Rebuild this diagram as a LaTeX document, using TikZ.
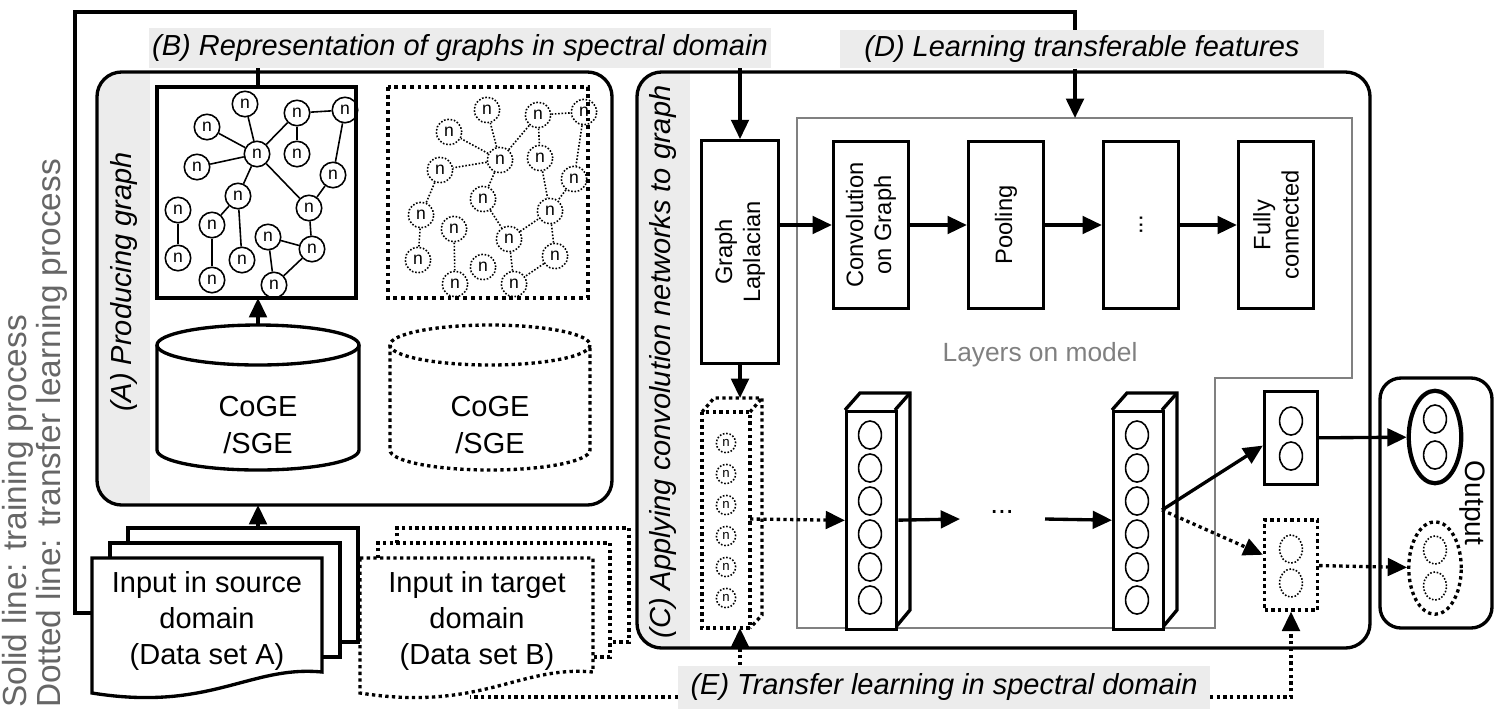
\documentclass[tikz,border=0pt]{standalone}
\usepackage{fontspec}
\setmainfont{Liberation Sans}
\usetikzlibrary{arrows.meta,positioning,shapes.geometric}

\tikzset{
  thk/.style={line width=1.9pt},
  dts/.style={line width=1.9pt, dash pattern=on 1.9pt off 1.9pt},
  arr/.style={thk, -{Triangle[length=11pt,width=10pt]}},
  darr/.style={dts, -{Triangle[length=11pt,width=10pt]}},
  gnode/.style={circle, draw, line width=0.9pt, inner sep=0pt, minimum size=14.5pt, font=\fontsize{10}{10}\selectfont},
  dnode/.style={gnode, densely dotted},
  lab/.style={fill=gray!15, font=\fontsize{16.5}{17}\selectfont\itshape, inner xsep=2pt},
  blk/.style={draw, thk, fill=white, font=\fontsize{13.5}{16}\selectfont, align=center},
  neur/.style={ellipse, draw, line width=0.9pt, minimum width=13pt, minimum height=16pt, inner sep=0pt},
  doctxt/.style={font=\fontsize{16.5}{20.5}\selectfont, align=center},
}

\begin{document}
\begin{tikzpicture}[x=0.02cm, y=-0.02cm]
\useasboundingbox (0,0) rectangle (1496,721);

% side legend
\node[rotate=90, anchor=west, text=gray!80!black, font=\fontsize{19}{19}\selectfont] at (18,714) {Solid line: training process};
\node[rotate=90, anchor=west, text=gray!80!black, font=\fontsize{19}{19}\selectfont] at (52,714) {Dotted line: transfer learning process};

% feedback loop
\coordinate (loopA) at (75,613);
\draw[thk] (92,613) -- (loopA) |- (1075,12) -- (1075,68);

% panel A
\begin{scope}
  \clip[rounded corners=14] (97,72) rectangle (612,505);
  \fill[gray!15] (97,72) rectangle (150,505);
\end{scope}
\draw[thk, rounded corners=14] (97,72) rectangle (612,505);
\node[rotate=90, font=\fontsize{16.5}{17}\selectfont\itshape] at (124,282) {(A) Producing graph};

% panel C
\begin{scope}
  \clip[rounded corners=14] (637,72) rectangle (1370,648);
  \fill[gray!15] (637,72) rectangle (690,648);
\end{scope}
\draw[thk, rounded corners=14] (637,72) rectangle (1370,648);
\node[rotate=90, font=\fontsize{16.5}{17}\selectfont\itshape] at (663,362) {(C) Applying convolution networks to graph};

% graph boxes
\draw[line width=2.2pt] (157,87) rectangle (356,298);
\draw[line width=2.2pt, dash pattern=on 2.2pt off 2.2pt] (388,87) rectangle (588,298);
\coordinate (gtop) at (258,87);
\coordinate (gbot) at (258,298);

\foreach \nm/\px/\py in {1/245/104, 2/207/127, 3/297/113, 4/345/110, 5/257/154, 6/297/154,
  7/197/167, 8/333/175, 9/238/196, 10/309/208, 11/178/210, 12/212/225, 13/268/237,
  14/312/249, 15/178/258, 16/242/260, 17/212/280, 18/274/285}
  \node[gnode] (s\nm) at (\px,\py) {n};
\foreach \a/\b in {5/1, 5/2, 5/7, 5/3, 3/4, 3/6, 4/8, 8/10, 5/10, 10/14, 5/9, 9/12,
  9/16, 12/17, 11/15, 13/14, 13/18, 14/18}
  \draw[line width=0.9pt] (s\a) -- (s\b);

\foreach \nm/\px/\py in {a/487/110, b/449/132, c/538/115, d/584/112, e/500/160, f/540/158,
  g/440/170, h/574/179, i/483/199, j/421/215, k/550/211, l/454/229, m/509/239,
  n/555/256, o/418/260, p/483/267, q/455/284, r/514/284}
  \node[dnode] (t\nm) at (\px,\py) {n};
\foreach \a/\b in {e/a, e/b, e/g, e/c, c/d, c/f, d/h, f/k, h/k, e/i, i/m, m/k, k/n,
  n/r, m/r, g/j, j/o, l/q}
  \draw[line width=0.9pt, densely dotted] (t\a) -- (t\b);

% databases
\draw[thk, fill=white] (157,345) -- (157,450) arc[start angle=180, end angle=360, x radius=101, y radius=-20] -- (359,345);
\draw[thk] (258,345) ellipse[x radius=101, y radius=20];
\node[doctxt] (dbA) at (258,425) {CoGE\\/SGE};
\draw[dts] (390,345) -- (390,450) arc[start angle=180, end angle=360, x radius=100, y radius=-20] -- (590,345);
\draw[dts] (490,345) ellipse[x radius=100, y radius=20];
\node[doctxt] (dbB) at (490,425) {CoGE\\/SGE};
\coordinate (dbtop) at (258,325);
\draw[arr] (dbtop) -- (gbot);

% input documents
\draw[thk, fill=white] (128,543) -- (128,528) -- (358,528) -- (358,642) -- (340,642);
\draw[thk, fill=white] (110,558) -- (110,543) -- (340,543) -- (340,657) -- (322,657);
\draw[thk, fill=white] (92,558) -- (322,558) -- (322,672) .. controls (250,665) and (210,712) .. (92,693) -- cycle;
\node[doctxt] (srcdoc) at (207,621) {Input in source\\domain\\(Data set A)};
\coordinate (docA) at (258,528);
\coordinate (panA) at (258,505);
\draw[arr] (docA) -- (panA);

\draw[dts] (397,543) -- (397,528) -- (629,528) -- (629,642) -- (610,642);
\draw[dts] (378,558) -- (378,543) -- (610,543) -- (610,657) -- (593,657);
\draw[dts] (360,558) -- (593,558) -- (593,672) .. controls (520,665) and (480,712) .. (360,693) -- cycle;
\node[doctxt] (tgtdoc) at (477,621) {Input in target\\domain\\(Data set B)};
\coordinate (docB) at (470,697);

% model layers
\draw[gray, line width=1.4pt] (797,118) -- (1352,118) -- (1352,378) -- (1215,378) -- (1215,628) -- (797,628) -- cycle;
\node[text=gray, font=\fontsize{15}{15}\selectfont] (laymod) at (1040,355) {Layers on model};
\coordinate (laytop) at (1075,118);

\node[blk, rotate=90, minimum height=1.55cm, minimum width=4.45cm] (lap) at (740,252) {Graph\\Laplacian};
\node[blk, rotate=90, minimum height=1.5cm, minimum width=3.35cm] (conv) at (871,225) {Convolution\\on Graph};
\node[blk, rotate=90, minimum height=1.5cm, minimum width=3.35cm] (pool) at (1006,225) {Pooling};
\node[blk, rotate=90, minimum height=1.5cm, minimum width=3.35cm] (dots) at (1141,225) {...};
\node[blk, rotate=90, minimum height=1.5cm, minimum width=3.35cm] (fc) at (1276,225) {Fully\\connected};
\draw[arr] (lap.south |- conv) -- (conv.north);
\draw[arr] (conv) -- (pool);
\draw[arr] (pool) -- (dots);
\draw[arr] (dots) -- (fc);

% graph signal cuboid
\draw[dts] (702,412) -- (714,398) -- (762,398) -- (762,615) -- (750,628);
\draw[dts] (750,412) -- (762,398);
\draw[dts] (702,412) rectangle (750,628);
\coordinate (cubtop) at (740,398);
\coordinate (cubbot) at (740,628);
\foreach \k in {0,...,5}
  \node[dnode, minimum size=11pt, font=\fontsize{7.5}{7.5}\selectfont] (c\k) at (726,443+\k*31) {n};
\draw[arr] (lap) -- (cubtop);
\coordinate (cubR) at (750,519);

% neuron columns
\foreach \nm/\cx in {colA/845, colB/1112} {
  \draw[thk, fill=white] (\cx,410) -- (\cx+15,393) -- (\cx+65,393) -- (\cx+65,610) -- (\cx+50,628);
  \draw[thk] (\cx+50,410) -- (\cx+65,393);
  \node[draw, thk, fill=white, minimum width=1cm, minimum height=4.36cm, inner sep=0pt, anchor=north west] (\nm) at (\cx,410) {};
  \foreach \k in {0,...,5}
    \node[neur] at (\cx+25,435+\k*33) {};
}
\draw[darr] (cubR) -- (colA);
\node[font=\fontsize{16}{16}\selectfont] (mid) at (1002,512) {...};
\coordinate (midL) at (960,519);
\coordinate (midR) at (1045,519);
\draw[arr] (colA) -- (midL);
\draw[arr] (midR) -- (colB);

% output vectors
\node[draw, thk, minimum width=1.06cm, minimum height=1.86cm] (ovA) at (1291,438) {};
\node[neur] at (1291,421) {}; \node[neur] at (1291,456) {};
\node[draw, dts, minimum width=1.06cm, minimum height=1.8cm] (ovB) at (1291,565) {};
\node[neur, densely dotted] at (1291,549) {}; \node[neur, densely dotted] at (1291,583) {};
\coordinate (colBR) at (1162,510);
\draw[arr] (colBR) -- (ovA.195);
\draw[darr] (colBR) -- (ovB.160);

% output panel
\draw[thk, rounded corners=12] (1380,378) rectangle (1492,628);
\node[rotate=-90, font=\fontsize{16}{16}\selectfont] (outlab) at (1472,503) {Output};
\node[ellipse, draw, line width=2.4pt, minimum width=1.05cm, minimum height=1.85cm] (outA) at (1435,437) {};
\node[neur] at (1435,419) {}; \node[neur] at (1435,455) {};
\node[ellipse, draw, dts, minimum width=1.05cm, minimum height=1.85cm] (outB) at (1435,568) {};
\node[neur, densely dotted] at (1435,550) {}; \node[neur, densely dotted] at (1435,586) {};
\draw[arr] (ovA) -- (outA);
\draw[darr] (ovB) -- (outB);

% labels
\node[lab, minimum height=0.8cm] (labB) at (460,48) {(B) Representation of graphs in spectral domain};
\node[lab, minimum width=9.7cm, minimum height=0.76cm] (labD) at (1082,49) {(D) Learning transferable features};
\node[lab, minimum width=10.64cm, minimum height=0.86cm] (labE) at (944,687) {(E) Transfer learning in spectral domain};
\coordinate (eR) at (1210,697);
\coordinate (eL) at (678,697);
\draw[thk] (labB.south -| gtop) -- (gtop);
\draw[arr] (labB.south -| cubtop) -- (lap.east);
\draw[arr] (labD.south -| laytop) -- (laytop);
\draw[darr] (labE.north -| cubbot) -- (cubbot);
\draw[darr] (eR) -| (ovB.south);
\draw[dts] (eL) -- (docB);
\end{tikzpicture}
\end{document}
